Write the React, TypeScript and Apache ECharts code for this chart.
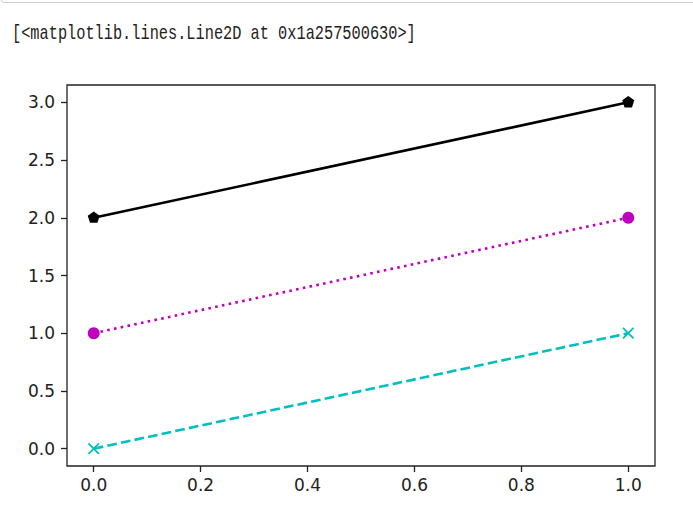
import React, { useEffect, useRef } from "react";
import * as echarts from "echarts";

// data
const xValues = [0, 1];
const blackY = [2, 3];
const magentaY = [1, 2];
const cyanY = [0, 1];
const xTicks = [0, 0.2, 0.4, 0.6, 0.8, 1.0];
const yTicks = [0, 0.5, 1.0, 1.5, 2.0, 2.5, 3.0];
const headerText = "[<matplotlib.lines.Line2D at 0x1a257500630>]";

const pentagon =
  "path://M0,-100L95.1,-30.9L58.8,80.9L-58.8,80.9L-95.1,-30.9Z";
const cross = "path://M0,0L10,10M10,0L0,10";

const pairs = (ys: number[]) => xValues.map((x, i) => [x, ys[i]]);

const App = () => {
  const chartRef = useRef<HTMLDivElement>(null);

  useEffect(() => {
    const chartDom = chartRef.current;
    if (!chartDom) return;
    const myChart = echarts.init(chartDom, null, { renderer: "svg" });

    const tickStyle = { color: "#222", width: 1.3 };
    const labelStyle = {
      color: "#222",
      fontFamily: "DejaVu Sans",
      fontSize: 17,
    };

    const option = {
      animation: false,
      backgroundColor: "#fff",
      grid: {
        left: 67,
        right: 38,
        top: 85,
        bottom: 54,
        show: true,
        borderColor: "#222",
        borderWidth: 1.3,
        backgroundColor: "#fff",
      },
      xAxis: {
        type: "value",
        min: -0.05,
        max: 1.05,
        splitLine: { show: false },
        axisLine: { show: false, onZero: false },
        axisTick: {
          show: true,
          length: 6,
          lineStyle: tickStyle,
          customValues: xTicks,
        },
        axisLabel: {
          ...labelStyle,
          margin: 10,
          customValues: xTicks,
          formatter: (v: number) => v.toFixed(1),
        },
      },
      yAxis: {
        type: "value",
        min: -0.15,
        max: 3.15,
        splitLine: { show: false },
        axisLine: { show: false, onZero: false },
        axisTick: {
          show: true,
          length: 6,
          lineStyle: tickStyle,
          customValues: yTicks,
        },
        axisLabel: {
          ...labelStyle,
          margin: 12,
          customValues: yTicks,
          formatter: (v: number) => v.toFixed(1),
        },
      },
      graphic: [
        {
          type: "rect",
          shape: { x: 1, y: -20, width: 720, height: 22.5, r: 3 },
          style: { fill: "none", stroke: "#cfcfcf", lineWidth: 1 },
          silent: true,
        },
        {
          type: "text",
          x: 12,
          y: 33,
          scaleY: 1.3,
          style: {
            text: headerText,
            fontFamily: "Liberation Mono",
            fontSize: 15.3,
            fill: "#222",
            textVerticalAlign: "middle",
          },
        },
      ],
      series: [
        {
          type: "line",
          data: pairs(blackY),
          symbol: pentagon,
          symbolSize: [12, 11.4],
          symbolOffset: [0, -0.6],
          lineStyle: { color: "#000", width: 2.6, type: "solid" },
          itemStyle: { color: "#000", borderWidth: 0 },
        },
        {
          type: "line",
          data: pairs(magentaY),
          symbol: "circle",
          symbolSize: 12,
          lineStyle: {
            color: "#bf00bf",
            width: 2.6,
            type: [2.6, 4.3],
            cap: "butt",
          },
          itemStyle: { color: "#bf00bf", borderWidth: 0 },
        },
        {
          type: "line",
          data: pairs(cyanY),
          symbol: cross,
          symbolSize: 10.5,
          lineStyle: {
            color: "#00bfbf",
            width: 2.6,
            type: [9.7, 4.2],
            cap: "butt",
          },
          itemStyle: {
            color: "#00bfbf",
            borderColor: "#00bfbf",
            borderWidth: 1.75,
          },
        },
      ],
    };

    myChart.setOption(option);

    const onResize = () => myChart.resize();
    window.addEventListener("resize", onResize, false);

    return () => {
      window.removeEventListener("resize", onResize, false);
      myChart.dispose();
    };
  }, []);

  return (
    <div
      ref={chartRef}
      style={{ position: "fixed", left: 0, top: 0, width: 693, height: 520 }}
    ></div>
  );
};

export default App;
